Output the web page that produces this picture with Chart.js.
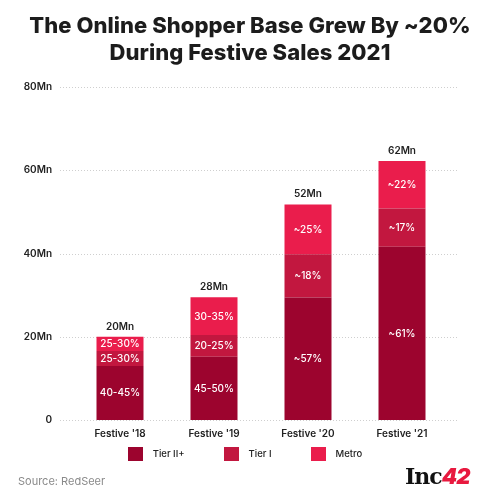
<!DOCTYPE html>
<html>
<head>
<meta charset="utf-8">
<script src="https://cdn.jsdelivr.net/npm/chart.js@4.4.0/dist/chart.umd.min.js"></script>
<style>
  html, body { margin: 0; padding: 0; background: #fff; }
  #wrap { position: relative; width: 500px; height: 501px; }
  canvas { position: absolute; left: 0; top: 0; }
  #title { position: absolute; left: 0; top: 12px; width: 500px; text-align: center;
           font: 800 22px/27px Inter, sans-serif; color: #1c1c1c; letter-spacing: 0.05px; }
  #source { position: absolute; left: 18px; top: 474px; font: 11px Inter, sans-serif; color: #8a8a8a; }
  #logo { position: absolute; left: 405px; top: 463px; font: bold 22px "DejaVu Serif", serif; color: #111; letter-spacing: -1px; }
  #logo span { color: #e8193f; font-family: Inter, sans-serif; font-style: italic; font-weight: 900; }
</style>
</head>
<body>
<div id="wrap">
  <canvas id="c" width="500" height="501"></canvas>
  <div id="title">The Online Shopper Base Grew By ~20%<br>During Festive Sales 2021</div>
  <div id="source">Source: RedSeer</div>
  <div id="logo">Inc<span>42</span></div>
</div>
<script>
const categories = ["Festive '18", "Festive '19", "Festive '20", "Festive '21"];
const tierII = [13.0, 15.2, 29.4, 41.6];
const tierI = [3.6, 5.2, 10.4, 9.2];
const metro = [3.4, 9.1, 12.0, 11.4];
const tierIILabels = ['40-45%', '45-50%', '~57%', '~61%'];
const tierILabels = ['25-30%', '20-25%', '~18%', '~17%'];
const metroLabels = ['25-30%', '30-35%', '~25%', '~22%'];
const totalLabels = ['20Mn', '28Mn', '52Mn', '62Mn'];
const yTickLabels = ['0', '20Mn', '40Mn', '60Mn', '80Mn'];
const seriesNames = ['Tier II+', 'Tier I', 'Metro'];
const colors = ['#9c042e', '#c2173f', '#ea1d4c'];

const gridPlugin = {
  id: 'dottedGrid',
  beforeDatasetsDraw(chart) {
    const ctx = chart.ctx;
    const y = chart.scales.y;
    const a = chart.chartArea;
    ctx.save();
    ctx.strokeStyle = '#cfcfcf';
    ctx.lineWidth = 1;
    ctx.setLineDash([1, 2]);
    y.ticks.forEach(t => {
      const py = Math.round(y.getPixelForValue(t.value)) + 0.5;
      ctx.beginPath();
      ctx.moveTo(a.left - 13, py);
      ctx.lineTo(a.right + 8, py);
      ctx.stroke();
    });
    ctx.restore();
  }
};

const labelPlugin = {
  id: 'segLabels',
  afterDatasetsDraw(chart) {
    const ctx = chart.ctx;
    const segLabels = [tierIILabels, tierILabels, metroLabels];
    ctx.save();
    ctx.textAlign = 'center';
    ctx.textBaseline = 'middle';
    ctx.font = '500 10px Inter, sans-serif';
    ctx.fillStyle = '#ffffff';
    chart.data.datasets.forEach((ds, di) => {
      const meta = chart.getDatasetMeta(di);
      meta.data.forEach((bar, i) => {
        const cy = (bar.y + bar.base) / 2;
        ctx.fillText(segLabels[di][i], bar.x, cy + 0.5);
      });
    });
    const top = chart.getDatasetMeta(2);
    ctx.fillStyle = '#222';
    ctx.font = '600 10px Inter, sans-serif';
    ctx.textBaseline = 'alphabetic';
    top.data.forEach((bar, i) => {
      ctx.fillText(totalLabels[i], bar.x, bar.y - 7);
    });
    ctx.restore();
  }
};

const legendPlugin = {
  id: 'customLegend',
  afterDraw(chart) {
    const ctx = chart.ctx;
    const a = chart.chartArea;
    const box = 15, gap = 10, spacing = 39;
    ctx.save();
    ctx.font = '500 9.5px Inter, sans-serif';
    ctx.textBaseline = 'middle';
    ctx.textAlign = 'left';
    const widths = chart.data.datasets.map(ds => box + gap + ctx.measureText(ds.label).width);
    const total = widths.reduce((s, w) => s + w, 0) + spacing * (widths.length - 1);
    let x = (a.left + a.right) / 2 - 16 - total / 2;
    const yc = a.bottom + 34;
    chart.data.datasets.forEach((ds, i) => {
      ctx.fillStyle = ds.backgroundColor;
      ctx.fillRect(Math.round(x), Math.round(yc - 7), box, 14);
      ctx.fillStyle = '#222';
      ctx.fillText(ds.label, x + box + gap, yc);
      x += widths[i] + spacing;
    });
    ctx.restore();
  }
};

new Chart(document.getElementById('c'), {
  type: 'bar',
  data: {
    labels: categories,
    datasets: [
      { label: seriesNames[0], data: tierII, backgroundColor: colors[0] },
      { label: seriesNames[1], data: tierI, backgroundColor: colors[1] },
      { label: seriesNames[2], data: metro, backgroundColor: colors[2] }
    ]
  },
  options: {
    responsive: false,
    animation: false,
    devicePixelRatio: 1,
    layout: { padding: { left: 0, right: 51, top: 87, bottom: 51 } },
    datasets: { bar: { categoryPercentage: 1.0, barPercentage: 0.5 } },
    scales: {
      x: {
        stacked: true,
        grid: { display: false, drawTicks: false },
        border: { display: false },
        ticks: { color: '#222', font: { family: 'Inter', size: 10, weight: '600' }, padding: 8 },
        afterFit: s => { s.height = 30; }
      },
      y: {
        stacked: true,
        min: 0, max: 80,
        grid: { display: false, drawTicks: false },
        border: { display: false },
        afterFit: s => { s.width = 73; },
        ticks: {
          stepSize: 20,
          padding: 21,
          color: '#222',
          font: { family: 'Inter', size: 10, weight: '600' },
          callback: (v, i) => yTickLabels[i]
        }
      }
    },
    plugins: {
      title: { display: false },
      legend: { display: false },
      tooltip: { enabled: false }
    }
  },
  plugins: [gridPlugin, labelPlugin, legendPlugin]
});
</script>
</body>
</html>
